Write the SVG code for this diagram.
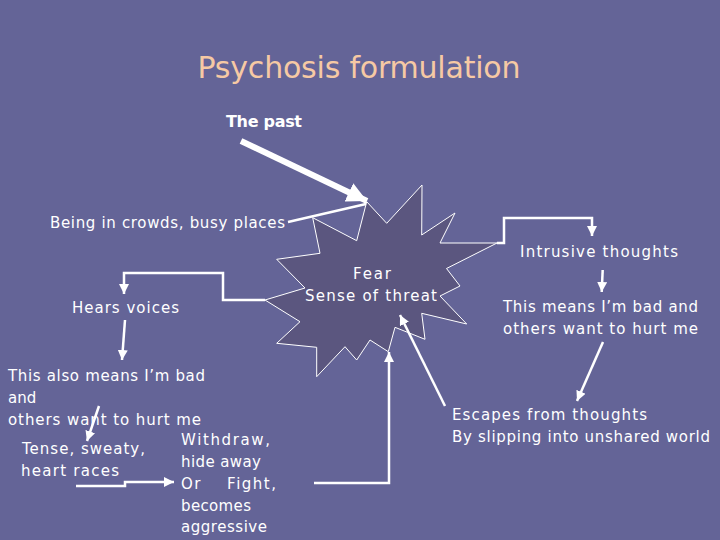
<svg xmlns="http://www.w3.org/2000/svg" width="720" height="540" viewBox="0 0 720 540">
<style>
text{font-family:"DejaVu Sans","Liberation Sans",sans-serif;fill:#ffffff;font-size:15px}
.title{fill:#f6c9a4;font-size:30px}
.bold{font-weight:bold;font-size:16px}
.c{stroke:#ffffff;fill:none;stroke-width:2.5}
</style>
<defs>
<marker id="ah" markerUnits="userSpaceOnUse" markerWidth="12" markerHeight="10" refX="10" refY="5" orient="auto">
<path d="M0,0 L10,5 L0,10 z" fill="#ffffff"/>
</marker>
<marker id="big" markerUnits="userSpaceOnUse" markerWidth="22" markerHeight="20" refX="20" refY="10" orient="auto">
<path d="M0,0 L20,10 L0,20 z" fill="#ffffff"/>
</marker>
</defs>
<rect width="720" height="540" fill="#646497"/>
<text class="title" x="359" y="78" text-anchor="middle" textLength="323">Psychosis formulation</text>
<g id="fear">
<polygon points="366.7,201.7 386.7,223.3 422,185 421.7,235 455,213 440,243 497,243 446.5,268.5 460,286 440,296 466.7,324 421.7,313.3 425,339.3 395,327.3 388.3,351.7 370,340 356.7,360 345,346.7 316.7,376.7 316.7,347.3 276.7,343.3 300,321.7 265,300 305,288 276.7,259.3 320,253.3 312.7,217.7 356.7,240.7" fill="#5b567f" stroke="#ffffff" stroke-width="1"/>
<text x="372" y="279" text-anchor="middle" font-size="16" textLength="38">Fear</text>
<text x="371" y="301" text-anchor="middle" font-size="16" textLength="132">Sense of threat</text>
</g>
<g id="past"><text class="bold" x="226" y="127" textLength="76">The past</text></g>
<g id="crowds"><text x="50" y="228" textLength="235">Being in crowds, busy places</text></g>
<g id="intrusive"><text x="520" y="257" textLength="159" letter-spacing="1">Intrusive thoughts</text></g>
<g id="means"><text x="503" y="312" textLength="195">This means I’m bad and</text><text x="503" y="334" textLength="195">others want to hurt me</text></g>
<g id="escapes"><text x="452" y="420" textLength="195">Escapes from thoughts</text><text x="452" y="442" textLength="258">By slipping into unshared world</text></g>
<g id="voices"><text x="72" y="313" textLength="107">Hears voices</text></g>
<g id="alsomeans"><text x="8" y="381" textLength="197">This also means I’m bad</text><text x="8" y="403">and</text><text x="8" y="425" textLength="193">others want to hurt me</text></g>
<g id="tense"><text x="22" y="454" textLength="123">Tense, sweaty,</text><text x="21" y="476" textLength="98">heart races</text></g>
<g id="withdraw"><text x="181" y="445" textLength="89">Withdraw,</text><text x="181" y="467" textLength="80">hide away</text><text x="181" y="489" xml:space="preserve" textLength="95">Or    Fight,</text><text x="181" y="511" textLength="70">becomes</text><text x="181" y="532" textLength="86">aggressive</text></g>
<g id="connectors">
<line x1="241" y1="141" x2="367" y2="201" stroke="#ffffff" stroke-width="6" marker-end="url(#big)"/>
<line x1="288" y1="222" x2="366" y2="204" class="c"/>
<polyline points="497,243 504,243 504,218 592,218 592,236" class="c" marker-end="url(#ah)"/>
<line x1="602.7" y1="270" x2="601.7" y2="292" class="c" marker-end="url(#ah)"/>
<line x1="603" y1="342" x2="577" y2="401" class="c" marker-end="url(#ah)"/>
<line x1="445" y1="406" x2="400" y2="315" class="c" stroke-width="3" marker-end="url(#ah)"/>
<polyline points="265,300 223,300 223,273 124,273 124,294" class="c" marker-end="url(#ah)"/>
<line x1="125" y1="320" x2="122" y2="360" class="c" marker-end="url(#ah)"/>
<line x1="99" y1="406" x2="87" y2="441" class="c" marker-end="url(#ah)"/>
<polyline points="76,486 125,486 125,482 174,482" class="c" marker-end="url(#ah)"/>
<polyline points="314,483 389,483 389,352" class="c" marker-end="url(#ah)"/>
</g>
</svg>
